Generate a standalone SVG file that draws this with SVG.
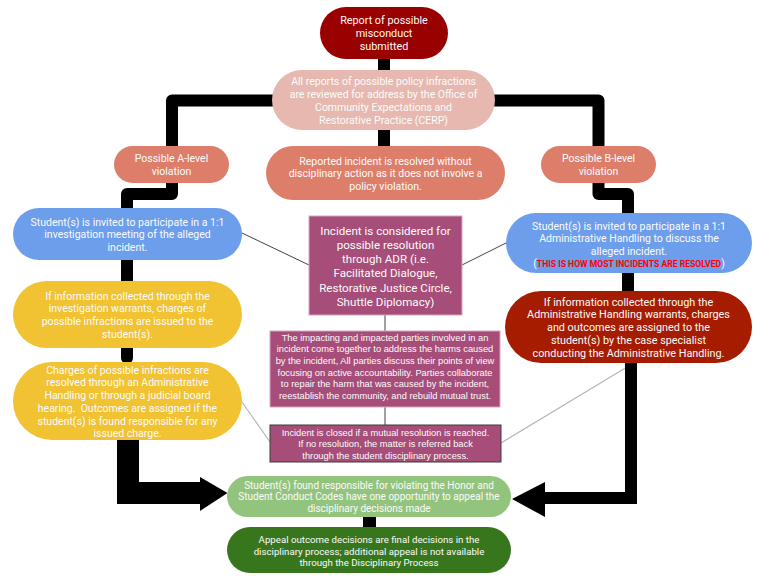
<svg xmlns="http://www.w3.org/2000/svg" width="768" height="576" viewBox="0 0 768 576">
<defs>
<style>
.t{font-family:Roboto,"Liberation Sans",sans-serif;fill:#fbfbfb;text-anchor:middle}
.a{font-family:"Liberation Sans",Arial,sans-serif;fill:#fbfbfb;text-anchor:middle;font-size:9.3px}
.k{fill:none;stroke:#000;stroke-width:12;stroke-linejoin:round}
.thin{fill:none;stroke:#434343;stroke-width:1}
.gray{fill:none;stroke:#b7b7b7;stroke-width:1.2}
.pur{fill:#a64d79}
</style>
</defs>
<rect width="768" height="576" fill="#ffffff"/>
<g id="connectors">
<path class="k" d="M384,59 V72"/>
<path class="k" d="M384,128 V148"/>
<path class="k" d="M274,100.5 H172 V148"/>
<path class="k" d="M493,100.5 H598.5 V148"/>
<path class="k" d="M172,182 V194 H127 V210"/>
<path class="k" d="M598.5,182 V194 H628 V215"/>
<path class="k" d="M127,258 V283"/>
<path class="k" d="M127,346 V358" stroke-linecap="round"/>
<path class="k" d="M628,271 V293"/>
<path class="k" d="M369.5,515 V529" style="stroke-width:13"/>
<path class="thin" d="M242,233 L309,265"/>
<path class="thin" d="M462,265 L506,243"/>
<path class="thin" d="M385,315 V331"/>
<path class="thin" d="M385,407 V425"/>
<path class="gray" d="M242,402 L270,442"/>
<path class="gray" d="M501,443 L632,364"/>
<path d="M117,440 H139 V482 H200 V477 L227.5,493 L200,511 V504 H117 Z" fill="#000"/>
<path d="M625,360 H637 V504 H545 V517 L512,499 L545,482 V492 H625 Z" fill="#000"/>
</g>
<g id="report">
<rect x="320" y="7" width="128" height="52" rx="26" fill="#990000"/>
<text class="t" font-size="10.8"><tspan x="384" y="24">Report of possible</tspan><tspan x="384" y="37">misconduct</tspan><tspan x="384" y="50">submitted</tspan></text>
</g>
<g id="review">
<rect x="272" y="70" width="223" height="60" rx="30" fill="#e6b8af"/>
<text class="t" font-size="10.5"><tspan x="383.5" y="85">All reports of possible policy infractions</tspan><tspan x="383.5" y="98">are reviewed for address by the Office of</tspan><tspan x="383.5" y="111">Community Expectations and</tspan><tspan x="383.5" y="124">Restorative Practice (CERP)</tspan></text>
</g>
<g id="alevel">
<rect x="114" y="146" width="115" height="37" rx="18.5" fill="#dd7e6b"/>
<text class="t" font-size="10.5"><tspan x="171.5" y="162">Possible A-level</tspan><tspan x="171.5" y="175">violation</tspan></text>
</g>
<g id="blevel">
<rect x="541" y="146" width="115" height="37" rx="18.5" fill="#dd7e6b"/>
<text class="t" font-size="10.5"><tspan x="598.5" y="162">Possible B-level</tspan><tspan x="598.5" y="175">violation</tspan></text>
</g>
<g id="resolved">
<rect x="266" y="146" width="239" height="54" rx="27" fill="#dd7e6b"/>
<text class="t" font-size="10.5"><tspan x="385.5" y="164.5">Reported incident is resolved without</tspan><tspan x="385.5" y="177">disciplinary action as it does not involve a</tspan><tspan x="385.5" y="189.5">policy violation.</tspan></text>
</g>
<g id="investA">
<rect x="13" y="208" width="229" height="52" rx="26" fill="#6d9eeb"/>
<text class="t" font-size="10.5"><tspan x="127.5" y="225.5">Student(s) is invited to participate in a 1:1</tspan><tspan x="127.5" y="238">investigation meeting of the alleged</tspan><tspan x="127.5" y="250.5">incident.</tspan></text>
</g>
<g id="adminB">
<rect x="506" y="213" width="246" height="60" rx="30" fill="#6d9eeb"/>
<text class="t" font-size="10.5"><tspan x="629" y="229.5">Student(s) is invited to participate in a 1:1</tspan><tspan x="629" y="242">Administrative Handling to discuss the</tspan><tspan x="629" y="254.5">alleged incident.</tspan></text>
<text class="t" x="629" y="266.5" font-size="10.5">(<tspan font-weight="bold" font-size="8.6" fill="#ff0000">THIS IS HOW MOST INCIDENTS ARE RESOLVED</tspan>)</text>
</g>
<g id="adr">
<rect x="309" y="216" width="153" height="99" class="pur" stroke="#d5a6bd" stroke-width="1"/>
<text class="t" font-size="11.6"><tspan x="385.5" y="234.5">Incident is considered for</tspan><tspan x="385.5" y="248.5">possible resolution</tspan><tspan x="385.5" y="262.5">through ADR (i.e.</tspan><tspan x="385.5" y="277">Facilitated Dialogue,</tspan><tspan x="385.5" y="291.5">Restorative Justice Circle,</tspan><tspan x="385.5" y="306">Shuttle Diplomacy)</tspan></text>
</g>
<g id="chargesIssued">
<rect x="13" y="281" width="229" height="67" rx="33.5" fill="#f1c232"/>
<text class="t" font-size="10.5"><tspan x="127.5" y="299.5">If information collected through the</tspan><tspan x="127.5" y="312">investigation warrants, charges of</tspan><tspan x="127.5" y="325">possible infractions are issued to the</tspan><tspan x="127.5" y="337.5">student(s).</tspan></text>
</g>
<g id="chargesResolved">
<rect x="13" y="362" width="229" height="78" rx="39" fill="#f1c232"/>
<text class="t" font-size="10.5"><tspan x="127.5" y="373.5">Charges of possible infractions are</tspan><tspan x="127.5" y="386">resolved through an Administrative</tspan><tspan x="127.5" y="399">Handling or through a judicial board</tspan><tspan x="127.5" y="411.5">hearing.&#160; Outcomes are assigned if the</tspan><tspan x="127.5" y="424.5">student(s) is found responsible for any</tspan><tspan x="127.5" y="437">issued charge.</tspan></text>
</g>
<g id="outcomesB">
<rect x="505" y="291" width="247" height="72" rx="36" fill="#a61c00"/>
<text class="t" font-size="10.8"><tspan x="628.5" y="305.5">If information collected through the</tspan><tspan x="628.5" y="318">Administrative Handling warrants, charges</tspan><tspan x="628.5" y="331">and outcomes are assigned to the</tspan><tspan x="628.5" y="343.5">student(s) by the case specialist</tspan><tspan x="628.5" y="356.5">conducting the Administrative Handling.</tspan></text>
</g>
<g id="adrProcess">
<rect x="270" y="331" width="230" height="76" class="pur" stroke="#d5a6bd" stroke-width="1"/>
<text class="a"><tspan x="385" y="340.5">The impacting and impacted parties involved in an</tspan><tspan x="385" y="352">incident come together to address the harms caused</tspan><tspan x="385" y="364">by the incident, All parties discuss their points of view</tspan><tspan x="385" y="375.5">focusing on active accountability. Parties collaborate</tspan><tspan x="385" y="387">to repair the harm that was caused by the incident,</tspan><tspan x="385" y="398.5">reestablish the community, and rebuild mutual trust.</tspan></text>
</g>
<g id="closed">
<rect x="270" y="425" width="231" height="37" class="pur" stroke="#3c3c3c" stroke-width="1"/>
<text class="a"><tspan x="385.5" y="435.5">Incident is closed if a mutual resolution is reached.</tspan><tspan x="385.5" y="447">If no resolution, the matter is referred back</tspan><tspan x="385.5" y="458.5">through the student disciplinary process.</tspan></text>
</g>
<g id="appeal">
<rect x="227" y="476" width="284" height="41" rx="20.5" fill="#93c47d"/>
<text class="t" font-size="10"><tspan x="369" y="488.5">Student(s) found responsible for violating the Honor and</tspan><tspan x="369" y="500">Student Conduct Codes have one opportunity to appeal the</tspan><tspan x="369" y="511.5">disciplinary decisions made</tspan></text>
</g>
<g id="final">
<rect x="227" y="527" width="284" height="46" rx="23" fill="#38761d"/>
<text class="t" font-size="9.7"><tspan x="369" y="543">Appeal outcome decisions are final decisions in the</tspan><tspan x="369" y="554.5">disciplinary process; additional appeal is not available</tspan><tspan x="369" y="566">through the Disciplinary Process</tspan></text>
</g>
</svg>
